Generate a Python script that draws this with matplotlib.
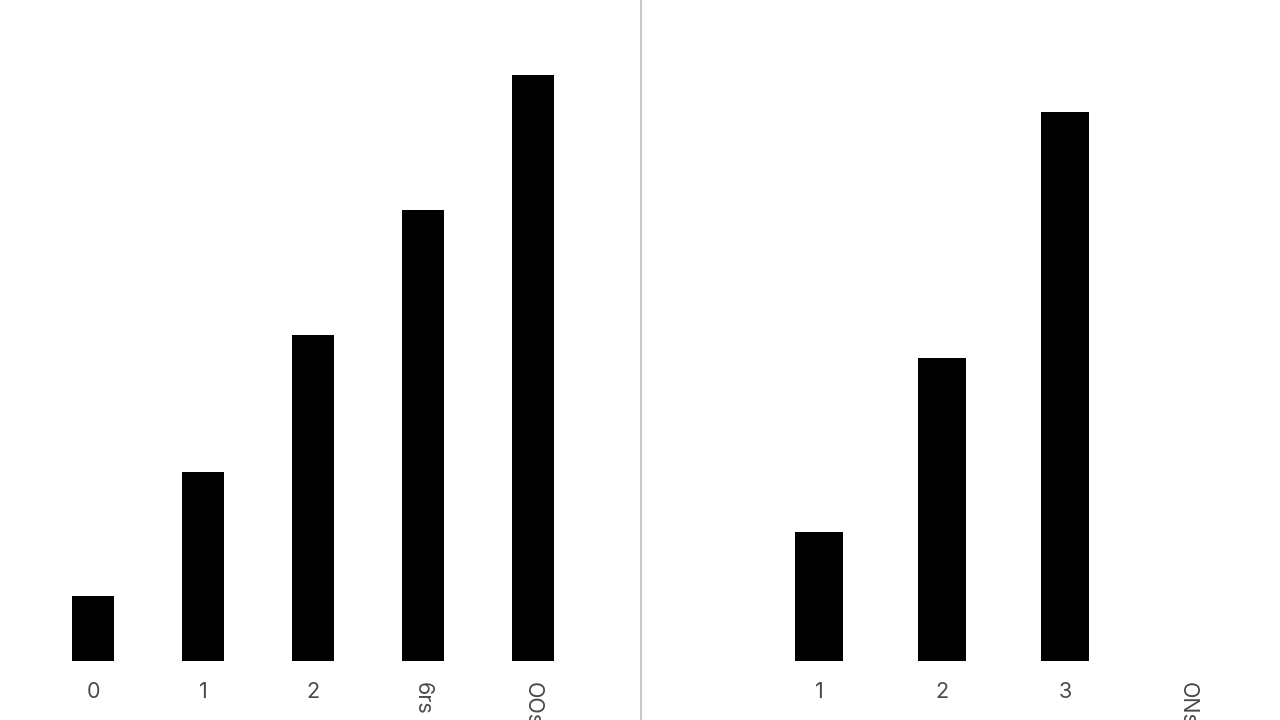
import matplotlib.pyplot as plt
from matplotlib.lines import Line2D

# Left panel data
left_pos = [0, 1, 2, 3, 4]
left_vals = [1.0, 2.91, 5.02, 6.94, 9.02]
left_labels = ["0", "1", "2", "6rs", "OOs"]

# Right panel data
right_pos = [1, 2, 3, 4]
right_vals = [3, 7.05, 12.77, 0]
right_labels = ["1", "2", "3", "ONs"]

plt.rcParams['font.family'] = ['Inter', 'DejaVu Sans']

fig = plt.figure(figsize=(12.8, 7.2), dpi=100)
fig.patch.set_facecolor('white')

bottom = 59 / 720
height = 661 / 720

# -----------------------------
# Left panel
# -----------------------------
ax1 = fig.add_axes([0, bottom, 640 / 1280, height])
ax1.bar(left_pos, left_vals, width=0.38, color='black')
ax1.set_xlim(-93 / 110, (640 - 93) / 110)
ax1.set_ylim(0, 661 / 65)

# -----------------------------
# Right panel
# -----------------------------
ax2 = fig.add_axes([642 / 1280, bottom, 638 / 1280, height])
ax2.bar(right_pos, right_vals, width=0.39, color='black')
ax2.set_xlim(1 - (819 - 642) / 123, 1 + (1280 - 819) / 123)
ax2.set_ylim(0, 661 / 43)

for ax, pos, labels in [(ax1, left_pos, left_labels), (ax2, right_pos, right_labels)]:
    ax.set_xticks(pos)
    ax.set_xticklabels(labels, fontsize=15.5, color='#4a4a4a')
    ax.tick_params(axis='x', length=0, pad=15)
    ax.set_yticks([])
    for s in ax.spines.values():
        s.set_visible(False)
    for t in ax.get_xticklabels():
        if len(t.get_text()) > 1:
            t.set_rotation(-90)
            t.set_x(t.get_position()[0] - 0.05)

# divider between the panels
fig.add_artist(Line2D([641 / 1280, 641 / 1280], [0, 1], color='#c8c8c8', lw=1.5))

fig.savefig('out.png', dpi=100)
